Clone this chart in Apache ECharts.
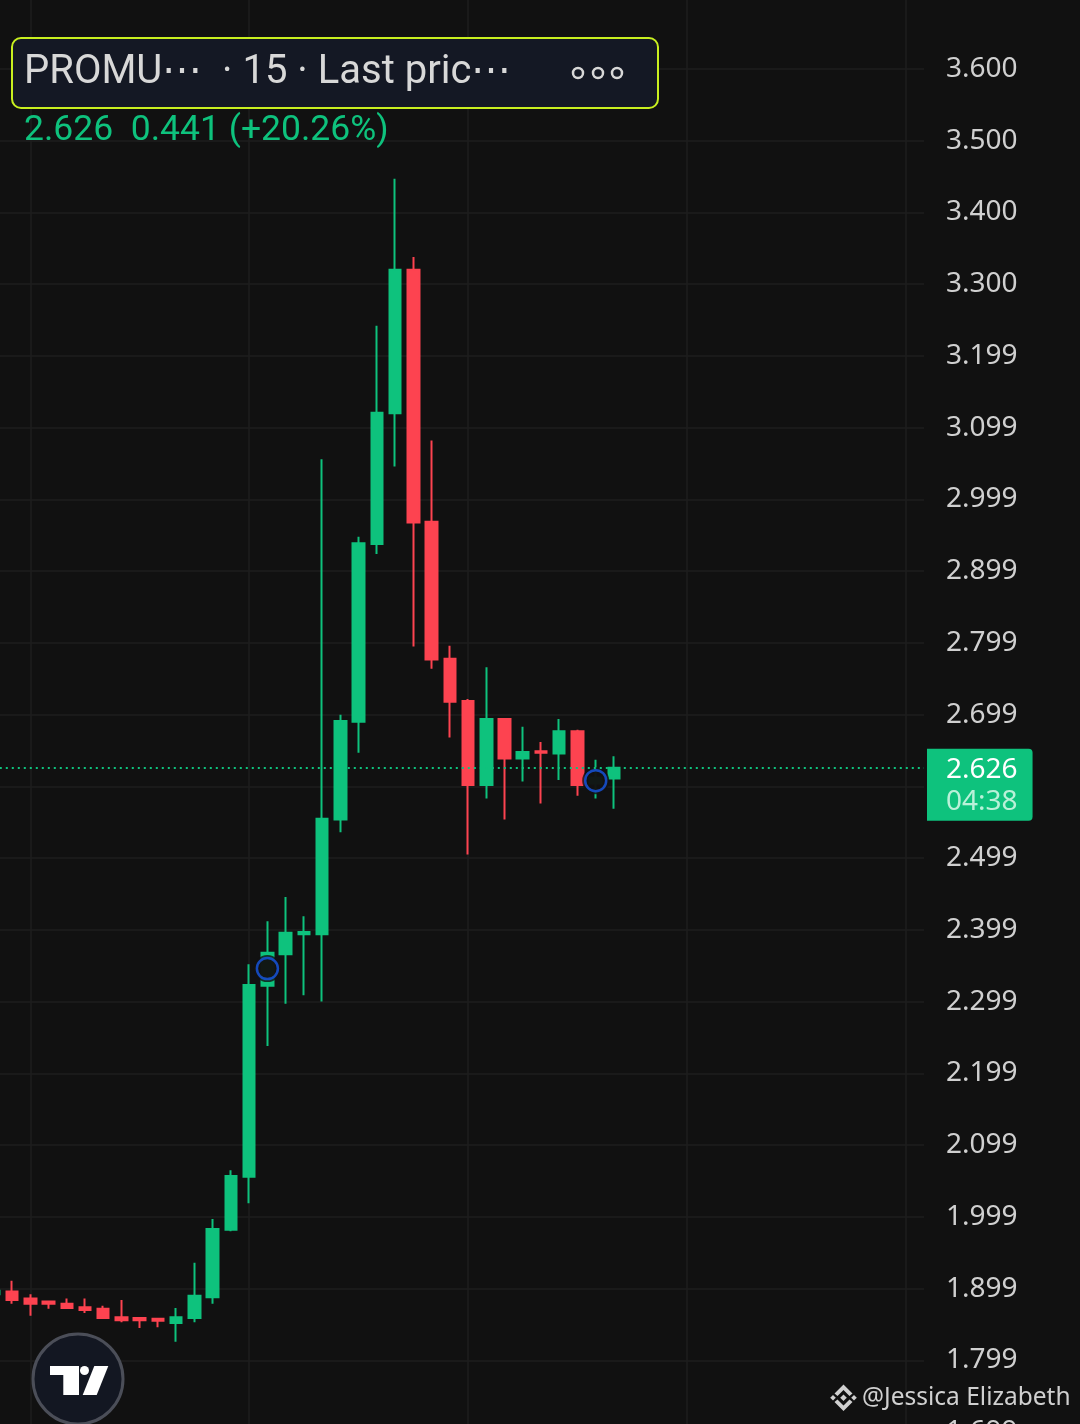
<!DOCTYPE html>
<html>
<head>
<meta charset="utf-8">
<script src="https://cdn.jsdelivr.net/npm/echarts@6/dist/echarts.min.js"></script>
<style>
  html, body { margin: 0; padding: 0; background: #111111; }
  #chart { width: 1080px; height: 1424px; }
</style>
</head>
<body>
<div id="chart"></div>
<script>
// ---- data (15-minute candles), each row: [open, close, low, high] ----
const ohlc = [
  [1.892, 1.897, 1.889, 1.900],
  [1.896, 1.884, 1.879, 1.911],
  [1.886, 1.879, 1.862, 1.892],
  [1.882, 1.879, 1.872, 1.883],
  [1.879, 1.873, 1.872, 1.886],
  [1.874, 1.870, 1.866, 1.886],
  [1.872, 1.859, 1.858, 1.876],
  [1.860, 1.856, 1.853, 1.884],
  [1.859, 1.856, 1.845, 1.859],
  [1.858, 1.855, 1.846, 1.859],
  [1.852, 1.860, 1.826, 1.873],
  [1.859, 1.890, 1.853, 1.936],
  [1.888, 1.983, 1.879, 1.997],
  [1.982, 2.057, 1.980, 2.065],
  [2.056, 2.323, 2.019, 2.352],
  [2.322, 2.368, 2.238, 2.412],
  [2.366, 2.396, 2.297, 2.446],
  [2.394, 2.397, 2.309, 2.419],
  [2.394, 2.555, 2.300, 3.056],
  [2.554, 2.691, 2.536, 2.700],
  [2.690, 2.939, 2.647, 2.948],
  [2.938, 3.121, 2.924, 3.242],
  [3.120, 3.320, 3.046, 3.447],
  [3.320, 2.968, 2.795, 3.338],
  [2.969, 2.777, 2.764, 3.082],
  [2.778, 2.718, 2.668, 2.796],
  [2.719, 2.602, 2.505, 2.722],
  [2.602, 2.694, 2.583, 2.766],
  [2.694, 2.639, 2.554, 2.695],
  [2.639, 2.648, 2.607, 2.683],
  [2.649, 2.647, 2.576, 2.662],
  [2.646, 2.677, 2.609, 2.694],
  [2.677, 2.602, 2.587, 2.679],
  [2.604, 2.612, 2.583, 2.637],
  [2.611, 2.626, 2.569, 2.642]
];
const emptySlots = 17;            // future bars to the right of the last candle
const lastPrice = 2.626;
const countdown = '04:38';
const change = '0.441';
const changePct = '+20.26%';
const symbolTitle = 'PROMU\u22ef  \u00b7 15 \u00b7 Last pric\u22ef';
// markers drawn on the chart: [candle index, price]
const markers = [[15, 2.346], [33, 2.608]];
// y tick values 1.7 … 3.7 (step 0.1) and the labels shown for them
const yTickLabels = ['1.699', '1.799', '1.899', '1.999', '2.099', '2.199', '2.299', '2.399',
  '2.499', '', '2.699', '2.799', '2.899', '2.999', '3.099', '3.199', '3.300', '3.400',
  '3.500', '3.600', ''];
const categories = ohlc.map((_, i) => 'b' + i)
  .concat(Array.from({ length: emptySlots }, (_, i) => 'f' + i));
const seriesData = ohlc.concat(Array.from({ length: emptySlots }, () => '-'));

const UP = '#0ec27d';
const DOWN = '#fd4350';
const BG = '#111111';
const GRIDC = '#1e1e1e';

const chart = echarts.init(document.getElementById('chart'), null, { renderer: 'canvas' });

const option = {
  backgroundColor: BG,
  animation: false,
  grid: { left: -6.2, right: 156, top: -2.74, bottom: -8.06, containLabel: false, outerBoundsMode: 'none' },
  xAxis: {
    type: 'category',
    data: categories,
    boundaryGap: false,
    axisLine: { show: false },
    axisTick: { show: false },
    axisLabel: { show: false },
    splitLine: {
      show: true,
      interval: (idx) => idx % 12 === 2,
      lineStyle: { color: GRIDC, width: 1.5 }
    }
  },
  yAxis: {
    type: 'value',
    position: 'right',
    min: 1.7,
    max: 3.7,
    interval: 0.1,
    axisLine: { show: false },
    axisTick: { show: false },
    axisLabel: {
      margin: 22,
      align: 'left',
      color: '#d0d0d0',
      fontFamily: 'Noto Sans',
      fontSize: 28,
      padding: [5, 0, 0, 0],
      formatter: (v) => yTickLabels[Math.round((v - 1.7) * 10)] || ''
    },
    splitLine: { show: true, lineStyle: { color: GRIDC, width: 1.5 } }
  },
  series: [
    {
      type: 'candlestick',
      data: seriesData,
      barWidth: 12,
      clip: false,
      itemStyle: {
        color: UP, color0: DOWN,
        borderColor: UP, borderColor0: DOWN,
        borderColorDoji: UP,
        borderWidth: 2
      },
      markLine: {
        silent: true,
        symbol: ['none', 'none'],
        precision: 3,
        lineStyle: { color: UP, type: [2, 4], width: 2 },
        label: {
          show: true,
          position: 'end',
          distance: 3,
          offset: [0, 17],
          backgroundColor: UP,
          borderRadius: [0, 4, 4, 0],
          padding: [5, 15, 3, 19],
          formatter: () => '{p|' + lastPrice.toFixed(3) + '}\n{t|' + countdown + '}',
          rich: {
            p: { color: '#ffffff', fontFamily: 'Noto Sans', fontSize: 28, lineHeight: 32 },
            t: { color: '#b9f1d8', fontFamily: 'Noto Sans', fontSize: 28, lineHeight: 32 }
          }
        },
        data: [{ yAxis: lastPrice }]
      },
      z: 3
    },
    {
      type: 'scatter',
      data: markers,
      symbol: 'circle',
      symbolSize: 27,
      itemStyle: { color: BG },
      silent: true,
      z: 4
    },
    {
      type: 'scatter',
      data: markers,
      symbol: 'circle',
      symbolSize: 21,
      itemStyle: { color: BG, borderColor: '#1757e6', borderWidth: 2.5 },
      silent: true,
      z: 5
    }
  ],
  graphic: [
    // legend / title box
    {
      type: 'rect', z: 10,
      shape: { x: 12, y: 38, width: 646, height: 70, r: 9 },
      style: { fill: '#141824', stroke: '#c8ef1f', lineWidth: 2 }
    },
    {
      type: 'text', z: 11, x: 24, y: 73,
      style: { text: symbolTitle, font: '40px Roboto', fill: '#d8d8d8', verticalAlign: 'middle' }
    },
    { type: 'circle', z: 11, shape: { cx: 578, cy: 73, r: 5 }, style: { fill: 'none', stroke: '#d8d8d8', lineWidth: 2.5 } },
    { type: 'circle', z: 11, shape: { cx: 598, cy: 73, r: 5 }, style: { fill: 'none', stroke: '#d8d8d8', lineWidth: 2.5 } },
    { type: 'circle', z: 11, shape: { cx: 617, cy: 73, r: 5 }, style: { fill: 'none', stroke: '#d8d8d8', lineWidth: 2.5 } },
    {
      type: 'text', z: 11, x: 24, y: 131,
      style: {
        text: lastPrice.toFixed(3) + '  ' + change + ' (' + changePct + ')',
        font: '35.5px Roboto', fill: UP, verticalAlign: 'middle'
      }
    },
    // TradingView badge
    {
      type: 'circle', z: 10,
      shape: { cx: 78, cy: 1379, r: 45 },
      style: { fill: '#131722', stroke: '#4b4e58', lineWidth: 3 }
    },
    {
      type: 'polygon', z: 11,
      shape: { points: [[50, 1366], [79, 1366], [79, 1395], [63.3, 1395], [63.3, 1375], [50, 1375]] },
      style: { fill: '#ffffff' }
    },
    { type: 'circle', z: 11, shape: { cx: 84.5, cy: 1370.5, r: 4.5 }, style: { fill: '#ffffff' } },
    {
      type: 'polygon', z: 11,
      shape: { points: [[94.3, 1366], [108.3, 1366], [96.7, 1395], [82.7, 1395]] },
      style: { fill: '#ffffff' }
    },
    // watermark
    {
      type: 'polygon', z: 11,
      shape: { points: [[843.5, 1384.5], [852.5, 1393.5], [849.5, 1396], [843.5, 1390], [837.5, 1396], [834.5, 1393.5]] },
      style: { fill: '#d0d0d0' }
    },
    {
      type: 'polygon', z: 11,
      shape: { points: [[843.5, 1411], [852.5, 1402], [849.5, 1399.5], [843.5, 1405.5], [837.5, 1399.5], [834.5, 1402]] },
      style: { fill: '#d0d0d0' }
    },
    {
      type: 'polygon', z: 11,
      shape: { points: [[843.5, 1394.5], [846.8, 1397.8], [843.5, 1401.1], [840.2, 1397.8]] },
      style: { fill: '#d0d0d0' }
    },
    {
      type: 'polygon', z: 11,
      shape: { points: [[833, 1395], [835.8, 1397.8], [833, 1400.6], [830.2, 1397.8]] },
      style: { fill: '#d0d0d0' }
    },
    {
      type: 'polygon', z: 11,
      shape: { points: [[854, 1395], [856.8, 1397.8], [854, 1400.6], [851.2, 1397.8]] },
      style: { fill: '#d0d0d0' }
    },
    {
      type: 'text', z: 11, x: 862, y: 1398,
      style: { text: '@Jessica Elizabeth', font: '24.5px "Noto Sans"', fill: '#d0d0d0', verticalAlign: 'middle' }
    }
  ]
};
chart.setOption(option);
</script>
</body>
</html>
